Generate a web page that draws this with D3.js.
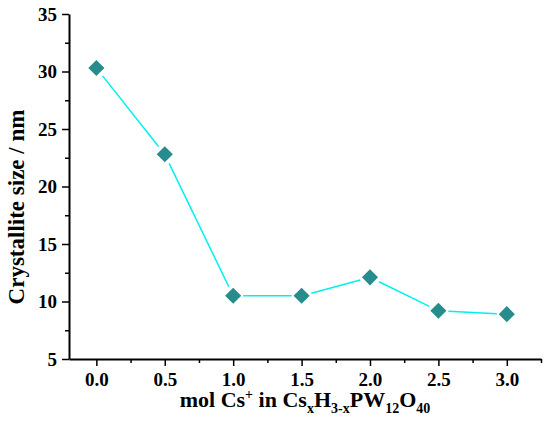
<!DOCTYPE html>
<html>
<head>
<meta charset="utf-8">
<script src="https://cdn.jsdelivr.net/npm/d3@7"></script>
<style>
  body { margin: 0; background: #fff; }
  text { font-family: "Liberation Serif", "Times New Roman", serif; font-weight: bold; fill: #000; }
</style>
</head>
<body>
<div id="chart"></div>
<script>
// Data
const csMol = [0.0, 0.5, 1.0, 1.5, 2.0, 2.5, 3.0];
const crystalliteSize = [30.3, 22.8, 10.5, 10.5, 12.1, 9.2, 8.9];
const xTicks = [0.0, 0.5, 1.0, 1.5, 2.0, 2.5, 3.0];
const yTicks = [5, 10, 15, 20, 25, 30, 35];

const W = 550, H = 430;
const margin = {top: 14, right: 9, bottom: 71, left: 69};
const width = W - margin.left - margin.right,
      height = H - margin.top - margin.bottom;

const svg = d3.select("#chart").append("svg")
    .attr("width", W).attr("height", H);
const g = svg.append("g")
    .attr("transform", `translate(${margin.left},${margin.top})`);

const x = d3.scaleLinear().domain([-0.2, 3.25]).range([0, width]);
const y = d3.scaleLinear().domain([5, 35]).range([height, 0]);

// minor ticks
g.append("g")
  .attr("transform", `translate(0,${height})`)
  .call(d3.axisBottom(x).tickValues(d3.range(0.25, 3.3, 0.5)).tickSize(4).tickFormat(""))
  .call(a => a.select(".domain").remove())
  .selectAll("line").attr("stroke-width", 1.5);
g.append("g")
  .call(d3.axisLeft(y).tickValues(d3.range(7.5, 35, 5)).tickSize(4).tickFormat(""))
  .call(a => a.select(".domain").remove())
  .selectAll("line").attr("stroke-width", 1.5);

// X axis
const xAxis = g.append("g")
  .attr("transform", `translate(0,${height})`)
  .call(d3.axisBottom(x).tickValues(xTicks).tickSize(7).tickSizeOuter(0).tickPadding(7).tickFormat(d3.format(".1f")));
xAxis.select(".domain").attr("stroke-width", 2);
xAxis.selectAll("line").attr("stroke-width", 1.5);
xAxis.selectAll("text").attr("font-size", 19).attr("font-family", "Liberation Serif").attr("font-weight", "bold");

// Y axis
const yAxis = g.append("g")
  .call(d3.axisLeft(y).tickValues(yTicks).tickSize(7).tickSizeOuter(0).tickPadding(5));
yAxis.select(".domain").attr("stroke-width", 2);
yAxis.selectAll("line").attr("stroke-width", 1.5);
yAxis.selectAll("text").attr("font-size", 19).attr("font-family", "Liberation Serif").attr("font-weight", "bold");

// line segments, stopping short of the markers
const pts = csMol.map((d, i) => [x(d), y(crystalliteSize[i])]);
const gap = 10;
for (let i = 0; i < pts.length - 1; i++) {
  const [x1, y1] = pts[i], [x2, y2] = pts[i + 1];
  const len = Math.hypot(x2 - x1, y2 - y1);
  const ux = (x2 - x1) / len, uy = (y2 - y1) / len;
  g.append("line")
    .attr("x1", x1 + ux * gap).attr("y1", y1 + uy * gap)
    .attr("x2", x2 - ux * gap).attr("y2", y2 - uy * gap)
    .attr("stroke", "#00f0f0").attr("stroke-width", 1.5);
}

// diamond markers
g.selectAll(".pt")
  .data(csMol)
  .join("path")
  .attr("class", "pt")
  .attr("d", d3.symbol(d3.symbolSquare, 130))
  .attr("transform", (d, i) => `translate(${x(d)},${y(crystalliteSize[i])}) rotate(45)`)
  .attr("fill", "#268c8c");

// axis titles
const xt = svg.append("text")
  .attr("x", margin.left + width / 2)
  .attr("y", 407)
  .attr("text-anchor", "middle")
  .attr("font-size", 22);
xt.append("tspan").text("mol Cs");
xt.append("tspan").attr("dy", -8).attr("font-size", 14).text("+");
xt.append("tspan").attr("dy", 8).text(" in Cs");
xt.append("tspan").attr("dy", 6).attr("font-size", 14).text("x");
xt.append("tspan").attr("dy", -6).text("H");
xt.append("tspan").attr("dy", 6).attr("font-size", 14).text("3-x");
xt.append("tspan").attr("dy", -6).text("PW");
xt.append("tspan").attr("dy", 6).attr("font-size", 14).text("12");
xt.append("tspan").attr("dy", -6).text("O");
xt.append("tspan").attr("dy", 6).attr("font-size", 14).text("40");

svg.append("text")
  .attr("transform", `translate(24,207) rotate(-90)`)
  .attr("text-anchor", "middle")
  .attr("font-size", 23)
  .text("Crystallite size / nm");
</script>
</body>
</html>
